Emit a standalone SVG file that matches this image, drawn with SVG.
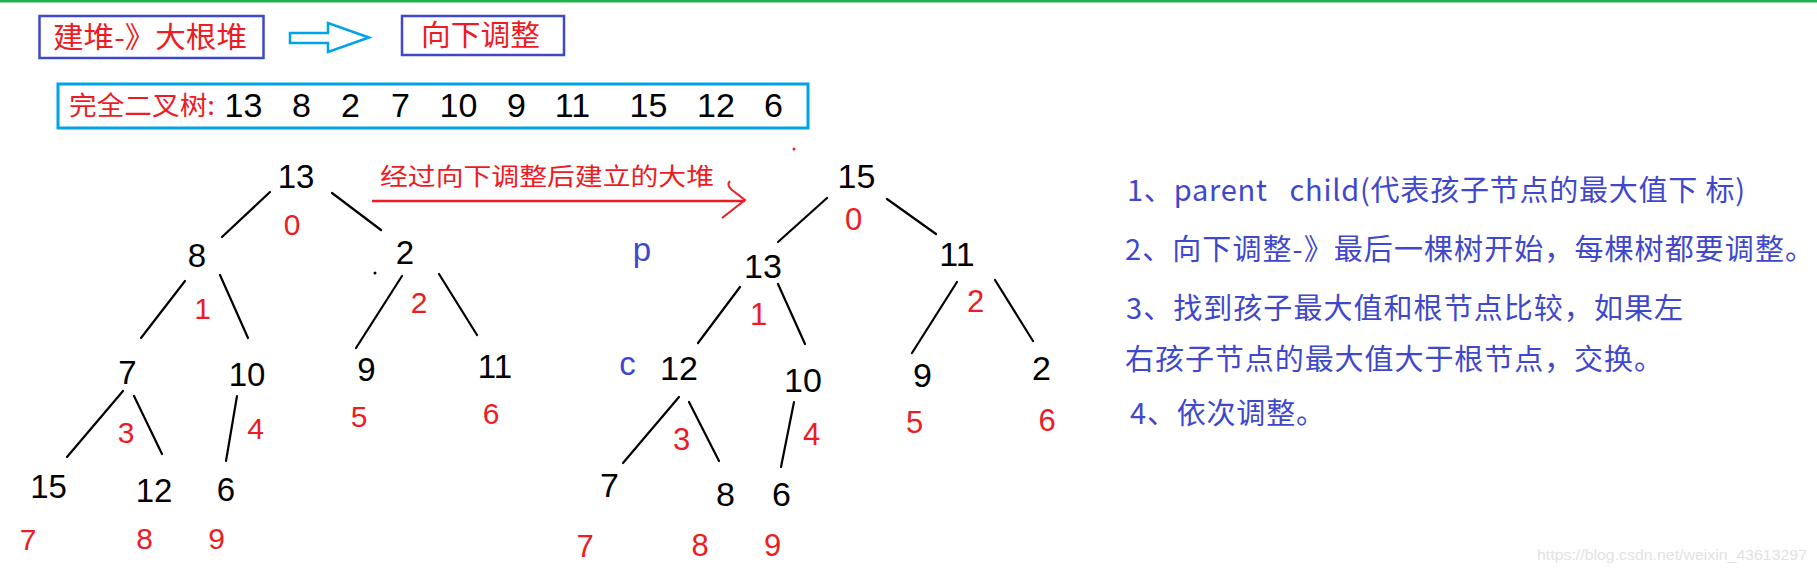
<svg xmlns="http://www.w3.org/2000/svg" width="1817" height="572" viewBox="0 0 1817 572">
<style>
.v{font-family:"Liberation Sans",Arial,sans-serif;fill:#000;text-anchor:middle}
.vl{font-size:33px}
.vr{font-size:34px}
.vb{font-size:34px}
.i{font-family:"Liberation Sans",Arial,sans-serif;fill:#ED1C24;text-anchor:middle}
.il{font-size:30px}
.ir{font-size:31px}
.blue{font-family:"Liberation Sans",Arial,sans-serif;fill:#3F48CC;font-size:33px;text-anchor:middle}
.cr{font-family:"Noto Sans CJK SC","Noto Sans",sans-serif;fill:#ED1C24}
.note{font-family:"Noto Sans CJK SC","Noto Sans",sans-serif;fill:#3F48CC;font-size:29px}
.edge{stroke:#000;stroke-width:2.2;fill:none;stroke-linecap:round}
.bbox{fill:none;stroke:#3F48CC;stroke-width:2.5}
</style>
<rect x="0" y="0" width="1817" height="572" fill="#fff"/>
<rect id="topline" x="0" y="0" width="1817" height="2.5" fill="#22B14C"/>

<g id="box-build">
<rect class="bbox" x="39.5" y="16" width="224" height="42"/>
<text class="cr" x="53" y="48" font-size="29" textLength="194" lengthAdjust="spacingAndGlyphs">建堆-》大根堆</text>
</g>
<g id="hollow-arrow">
<polygon points="290,33 328,33 328,23 369,37.5 328,52 328,43 290,43" fill="#fff" stroke="#00A2E8" stroke-width="2.5"/>
</g>
<g id="box-down">
<rect class="bbox" x="402" y="16" width="162" height="39"/>
<text class="cr" x="421" y="46" font-size="29" textLength="119" lengthAdjust="spacingAndGlyphs">向下调整</text>
</g>
<g id="array-box">
<rect x="58" y="84" width="750" height="44" fill="none" stroke="#00A2E8" stroke-width="3"/>
<text class="cr" x="69" y="115" font-size="26" textLength="146" lengthAdjust="spacingAndGlyphs">完全二叉树:</text>
<text class="v vb" x="243.5" y="117">13</text>
<text class="v vb" x="301.5" y="117">8</text>
<text class="v vb" x="350.5" y="117">2</text>
<text class="v vb" x="400.5" y="117">7</text>
<text class="v vb" x="458.5" y="117">10</text>
<text class="v vb" x="516.5" y="117">9</text>
<text class="v vb" x="572.5" y="117">11</text>
<text class="v vb" x="648.5" y="117">15</text>
<text class="v vb" x="716" y="117">12</text>
<text class="v vb" x="773.5" y="117">6</text>
</g>

<g id="connectors">
<g id="left-edges">
<line class="edge" x1="270" y1="192" x2="222" y2="237"/>
<line class="edge" x1="332" y1="193" x2="381" y2="230"/>
<line class="edge" x1="185" y1="281" x2="141" y2="338"/>
<line class="edge" x1="220" y1="275" x2="248" y2="338"/>
<line class="edge" x1="402" y1="276" x2="356" y2="348"/>
<line class="edge" x1="439" y1="274" x2="477" y2="335"/>
<line class="edge" x1="123" y1="391" x2="67" y2="457"/>
<line class="edge" x1="134" y1="396" x2="162" y2="454"/>
<line class="edge" x1="237" y1="396" x2="226" y2="461"/>
</g>
<g id="right-edges">
<line class="edge" x1="827" y1="198" x2="778" y2="242"/>
<line class="edge" x1="887" y1="199" x2="936" y2="234"/>
<line class="edge" x1="740" y1="287" x2="698" y2="343"/>
<line class="edge" x1="778" y1="284" x2="805" y2="344"/>
<line class="edge" x1="957" y1="282" x2="912" y2="353"/>
<line class="edge" x1="995" y1="280" x2="1033" y2="341"/>
<line class="edge" x1="679" y1="397" x2="623" y2="463"/>
<line class="edge" x1="689" y1="402" x2="719" y2="461"/>
<line class="edge" x1="794" y1="402" x2="781" y2="467"/>
</g>
<g id="red-arrow">
<line x1="372" y1="201" x2="745" y2="201" stroke="#ED1C24" stroke-width="2.6"/>
<path d="M730,181 Q726,185 732,190 L745,200 L722,218" fill="none" stroke="#ED1C24" stroke-width="2"/>
</g>
</g>

<g id="arrow-label">
<text class="cr" x="380" y="185" font-size="24" textLength="334" lengthAdjust="spacingAndGlyphs">经过向下调整后建立的大堆</text>
</g>

<g id="L0"><text class="v vl" x="296" y="188">13</text><text class="i il" x="292" y="235">0</text></g>
<g id="L1"><text class="v vl" x="197" y="267">8</text><text class="i il" x="202.5" y="319">1</text></g>
<g id="L2"><text class="v vl" x="405" y="264">2</text><text class="i il" x="419" y="313">2</text></g>
<g id="L3"><text class="v vl" x="127.5" y="384">7</text><text class="i il" x="126" y="443">3</text></g>
<g id="L4"><text class="v vl" x="247" y="386">10</text><text class="i il" x="255.5" y="439">4</text></g>
<g id="L5"><text class="v vl" x="366.5" y="381">9</text><text class="i il" x="359" y="427">5</text></g>
<g id="L6"><text class="v vl" x="495" y="378">11</text><text class="i il" x="491" y="424">6</text></g>
<g id="L7"><text class="v vl" x="48.5" y="498">15</text><text class="i il" x="28" y="550">7</text></g>
<g id="L8"><text class="v vl" x="154" y="502">12</text><text class="i il" x="144.5" y="549">8</text></g>
<g id="L9"><text class="v vl" x="226" y="501">6</text><text class="i il" x="216.5" y="549">9</text></g>
<circle cx="375" cy="273" r="1.5" fill="#000"/>

<g id="R0"><text class="v vr" x="856.5" y="188">15</text><text class="i ir" x="853.5" y="230">0</text></g>
<g id="R1"><text class="v vr" x="763" y="278">13</text><text class="i ir" x="758.5" y="325">1</text></g>
<g id="R2"><text class="v vr" x="957" y="266">11</text><text class="i ir" x="975.5" y="312">2</text></g>
<g id="R3"><text class="v vr" x="679" y="380">12</text><text class="i ir" x="681.5" y="450">3</text></g>
<g id="R4"><text class="v vr" x="803" y="392">10</text><text class="i ir" x="811.5" y="445">4</text></g>
<g id="R5"><text class="v vr" x="922.5" y="387">9</text><text class="i ir" x="914.5" y="433">5</text></g>
<g id="R6"><text class="v vr" x="1041.5" y="380">2</text><text class="i ir" x="1047" y="431">6</text></g>
<g id="R7"><text class="v vr" x="609.5" y="497">7</text><text class="i ir" x="585" y="557">7</text></g>
<g id="R8"><text class="v vr" x="725.5" y="506">8</text><text class="i ir" x="700" y="556">8</text></g>
<g id="R9"><text class="v vr" x="781.5" y="506">6</text><text class="i ir" x="772.5" y="556">9</text></g>
<g id="label-p"><text class="blue" x="642" y="261">p</text></g>
<g id="label-c"><text class="blue" x="627.5" y="375">c</text></g>
<circle cx="794" cy="149" r="1.5" fill="#ED1C24"/>

<g id="notes">
<text class="note" x="1127" y="201" textLength="618" lengthAdjust="spacing" xml:space="preserve">1、parent   child(代表孩子节点的最大值下 标)</text>
<text class="note" x="1125" y="260" textLength="689" lengthAdjust="spacing">2、向下调整-》最后一棵树开始，每棵树都要调整。</text>
<text class="note" x="1126" y="319" textLength="557" lengthAdjust="spacing">3、找到孩子最大值和根节点比较，如果左</text>
<text class="note" x="1125" y="370" textLength="538" lengthAdjust="spacing">右孩子节点的最大值大于根节点，交换。</text>
<text class="note" x="1130" y="424" textLength="195" lengthAdjust="spacing">4、依次调整。</text>
</g>
<g id="watermark">
<text x="1537" y="560" font-family="Liberation Sans,Arial,sans-serif" font-size="15" fill="#e2e2e2" textLength="270" lengthAdjust="spacingAndGlyphs">https://blog.csdn.net/weixin_43613297</text>
</g>
</svg>
